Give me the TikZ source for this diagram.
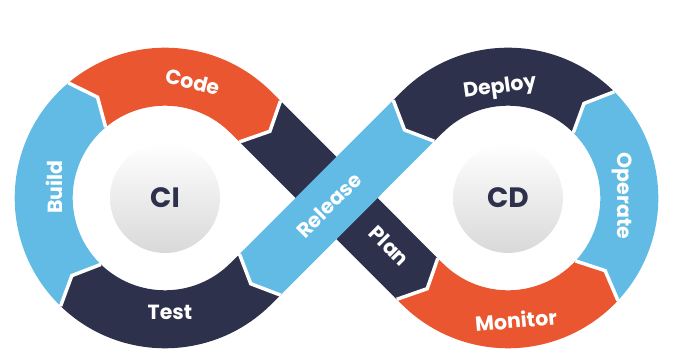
\documentclass[tikz,border=0pt]{standalone}
\usepackage{fontspec}
\setmainfont{Poppins}
\usetikzlibrary{calc}
\definecolor{corange}{HTML}{E9562F}
\definecolor{cblue}{HTML}{62BBE4}
\definecolor{cdark}{HTML}{2E314B}
\begin{document}
\begin{tikzpicture}[x=1pt,y=1pt,
  gap/.style={draw=white, line width=3.5pt, line join=miter},
  lbl/.style={text=white, font=\fontsize{20.5}{20.5}\selectfont\bfseries, inner sep=0pt},
  hub/.style={circle, minimum size=110pt, inner sep=0pt, top color=white, bottom color=black!15,
    text=cdark, font=\fontsize{28}{28}\selectfont\bfseries}]
\useasboundingbox (0,0) rectangle (687,363);
\def\Ro{150.3}\def\Rm{121.3}\def\Ri{92.3}
\coordinate (C1) at (165,165);
\coordinate (C2) at (508,165);
% tangent points of the bands
\coordinate (LO1) at ($(C1)+(45:\Ro)$);  \coordinate (LM1) at ($(C1)+(45:\Rm)$);  \coordinate (LI1) at ($(C1)+(45:\Ri)$);
\coordinate (LO2) at ($(C1)+(315:\Ro)$); \coordinate (LM2) at ($(C1)+(315:\Rm)$); \coordinate (LI2) at ($(C1)+(315:\Ri)$);
\coordinate (RO1) at ($(C2)+(225:\Ro)$); \coordinate (RM1) at ($(C2)+(225:\Rm)$); \coordinate (RI1) at ($(C2)+(225:\Ri)$);
\coordinate (RO2) at ($(C2)+(135:\Ro)$); \coordinate (RM2) at ($(C2)+(135:\Rm)$); \coordinate (RI2) at ($(C2)+(135:\Ri)$);
% boundaries on the bands
\coordinate (CPa) at ($(LO1)+(-45:13)$); \coordinate (CPt) at ($(LM1)+(-45:27)$); \coordinate (CPb) at ($(LI1)+(-45:13)$);
\coordinate (PMa) at ($(RO1)+(135:7)$);  \coordinate (PMt) at ($(RM1)+(-45:7)$);  \coordinate (PMb) at ($(RI1)+(135:7)$);
\coordinate (DRa) at ($(RO2)+(225:12)$); \coordinate (DRt) at ($(RM2)+(225:25)$); \coordinate (DRb) at ($(RI2)+(225:12)$);
\coordinate (RTa) at ($(LO2)+(45:13)$);  \coordinate (RTt) at (LM2);              \coordinate (RTb) at ($(LI2)+(45:13)$);
% boundaries on the rings
\coordinate (BCa) at ($(C1)+(130:\Ro)$); \coordinate (BCt) at ($(C1)+(123.8:\Rm)$); \coordinate (BCb) at ($(C1)+(130:\Ri)$);
\coordinate (TBa) at ($(C1)+(226:\Ro)$); \coordinate (TBt) at ($(C1)+(219.8:\Rm)$); \coordinate (TBb) at ($(C1)+(226:\Ri)$);
\coordinate (MOa) at ($(C2)+(317:\Ro)$); \coordinate (MOt) at ($(C2)+(323.2:\Rm)$); \coordinate (MOb) at ($(C2)+(317:\Ri)$);
\coordinate (ODa) at ($(C2)+(45:\Ro)$);  \coordinate (ODt) at ($(C2)+(51.2:\Rm)$);  \coordinate (ODb) at ($(C2)+(45:\Ri)$);
% segments
\fill[corange] (BCa) arc[start angle=130,end angle=45,radius=\Ro] -- (CPa) -- (CPt) -- (CPb) -- (LI1)
  arc[start angle=45,end angle=130,radius=\Ri] -- (BCt) -- cycle;
\fill[cdark] (CPa) -- (PMb) -- (PMt) -- (PMa) -- (CPb) -- (CPt) -- cycle;
\fill[corange] (PMa) -- (RO1) arc[start angle=225,end angle=317,radius=\Ro] -- (MOt) -- (MOb)
  arc[start angle=317,end angle=225,radius=\Ri] -- (PMb) -- (PMt) -- cycle;
\fill[cblue] (MOa) arc[start angle=317,end angle=405,radius=\Ro] -- (ODt) -- (ODb)
  arc[start angle=405,end angle=317,radius=\Ri] -- (MOt) -- cycle;
\fill[cdark] (ODa) arc[start angle=45,end angle=135,radius=\Ro] -- (DRa) -- (DRt) -- (DRb) -- (RI2)
  arc[start angle=135,end angle=45,radius=\Ri] -- (ODt) -- cycle;
\fill[cblue] (DRb) -- (RTa) -- (RTt) -- (RTb) -- (DRa) -- (DRt) -- cycle;
\fill[cdark] (RTa) -- (LO2) arc[start angle=315,end angle=226,radius=\Ro] -- (TBt) -- (TBb)
  arc[start angle=226,end angle=315,radius=\Ri] -- (RTb) -- (RTt) -- cycle;
\fill[cblue] (TBa) arc[start angle=226,end angle=130,radius=\Ro] -- (BCt) -- (BCb)
  arc[start angle=130,end angle=226,radius=\Ri] -- (TBt) -- cycle;
% white gaps
\draw[gap] (BCa) -- (BCt) -- (BCb);
\draw[gap] (TBa) -- (TBt) -- (TBb);
\draw[gap] (CPa) -- (CPt) -- (CPb);
\draw[gap] (PMa) -- (PMt) -- (PMb);
\draw[gap] (MOa) -- (MOt) -- (MOb);
\draw[gap] (ODa) -- (ODt) -- (ODb);
\draw[gap] (DRa) -- (DRt) -- (DRb);
\draw[gap] (RTa) -- (RTt) -- (RTb);
% labels
\node[lbl, rotate=-14] (code) at (193,281) {Code};
\node[lbl, rotate=90] (build) at (54,176) {Build};
\node[lbl] (test) at (170,51) {Test};
\node[lbl, rotate=45] (release) at (329,158) {Release};
\node[lbl, rotate=-45] (plan) at (389.5,117) {Plan};
\node[lbl, rotate=8] (deploy) at (500,275) {Deploy};
\node[lbl, rotate=-90] (operate) at (622,167) {Operate};
\node[lbl, rotate=5] (monitor) at (516,43) {Monitor};
% hubs
\node[hub] (ci) at (C1) {CI};
\node[hub] (cd) at (C2) {CD};
\end{tikzpicture}
\end{document}
